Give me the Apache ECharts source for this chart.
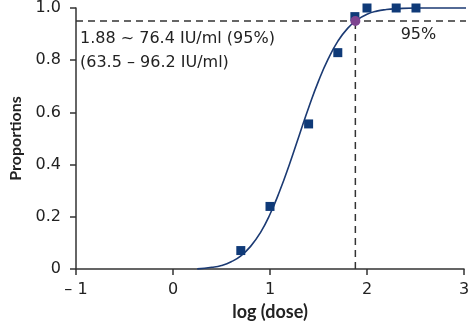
<!DOCTYPE html>
<html>
<head>
<meta charset="utf-8">
<script src="https://cdn.jsdelivr.net/npm/echarts@6/dist/echarts.min.js"></script>
<style>html,body{margin:0;padding:0;background:#fff}#c{width:474px;height:326px}</style>
</head>
<body>
<div id="c"></div>
<script>
// Observed data points (log dose vs proportion)
const doseLog = [0.699, 1.0, 1.398, 1.699, 1.875, 2.0, 2.301, 2.505];
const proportions = [0.071, 0.240, 0.556, 0.829, 0.967, 1.0, 1.0, 1.0];
// Fitted curve
const curveX = [0.25, 0.4, 0.5, 0.6, 0.7, 0.8, 0.9, 1.0, 1.1, 1.2, 1.3, 1.4, 1.5, 1.6, 1.7, 1.8, 1.9, 2.0, 2.1, 2.2, 2.3, 2.5, 2.8, 3.04];
const curveY = [0.001, 0.007, 0.014, 0.028, 0.051, 0.087, 0.139, 0.210, 0.299, 0.401, 0.511, 0.620, 0.720, 0.805, 0.873, 0.922, 0.955, 0.976, 0.988, 0.994, 0.997, 1.0, 1.0, 1.0];
// Cut-off (95%)
const cutoffX = 1.88;
const cutoffY = 0.95;
const hLineX = [-1, 3.05];
const xTicks = [-1, 0, 1, 2, 3];
const xTickLabels = ['\u2013 1', '0', '1', '2', '3'];
const yTickLabels = ['0', '0.2', '0.4', '0.6', '0.8', '1.0'];
const annotLines = ['1.88 ~ 76.4 IU/ml (95%)', '(63.5 \u2013 96.2 IU/ml)'];
const pctLabel = '95%';
const xName = 'log (dose)';
const yName = 'Proportions';

const FONT = 'DejaVu Sans';
const NFONT = 'Lato';
const txt = '#222';
const chart = echarts.init(document.getElementById('c'));
const axisCol = '#333';
chart.setOption({
  animation: false,
  grid: {left: 69, right: 10, top: 8, bottom: 53},
  xAxis: {
    type: 'value', min: -1, max: 3, interval: 1,
    name: xName, nameLocation: 'middle', nameGap: 28,
    nameTextStyle: {fontFamily: NFONT, fontWeight: 'bold', fontSize: 18, color: txt},
    axisLine: {onZero: false, lineStyle: {color: axisCol, width: 1.5}},
    axisTick: {length: 6, lineStyle: {color: axisCol, width: 1.5}},
    axisLabel: {fontFamily: FONT, fontSize: 16, color: txt, margin: 13,
      formatter: v => xTickLabels[xTicks.indexOf(v)]},
    splitLine: {show: false}
  },
  yAxis: {
    type: 'value', min: 0, max: 1, interval: 0.2,
    name: yName, nameLocation: 'middle', nameGap: 52,
    nameTextStyle: {fontFamily: NFONT, fontWeight: 'bold', fontSize: 16, color: txt},
    axisLine: {show: true, onZero: false, lineStyle: {color: axisCol, width: 1.5}},
    axisTick: {show: true, length: 6, lineStyle: {color: axisCol, width: 1.5}},
    axisLabel: {fontFamily: FONT, fontSize: 16, color: txt, margin: 15,
      formatter: v => yTickLabels[Math.round(v * 5)]},
    splitLine: {show: false}
  },
  series: [
    {type: 'line', data: hLineX.map(x => [x, cutoffY]), symbol: 'none', clip: false,
      lineStyle: {color: '#333', width: 1.5, type: [7, 5]}, z: 1},
    {type: 'line', data: [[cutoffX, 0], [cutoffX, cutoffY]], symbol: 'none',
      lineStyle: {color: '#333', width: 1.5, type: [7, 5]}, z: 1},
    {type: 'line', data: curveX.map((x, i) => [x, curveY[i]]), symbol: 'none', smooth: true, clip: false,
      lineStyle: {color: '#1b3a73', width: 1.6}, z: 2},
    {type: 'scatter', data: doseLog.map((x, i) => [x, proportions[i]]), symbol: 'rect', symbolSize: 9,
      itemStyle: {color: '#0f3a78', opacity: 1}, clip: false, z: 3},
    {type: 'scatter', data: [[cutoffX, cutoffY]], symbol: 'circle', symbolSize: 10,
      itemStyle: {color: '#7e4490', opacity: 1}, z: 4},
    {type: 'scatter', data: [[2.53, 0.897]], symbolSize: 0, silent: true,
      itemStyle: {opacity: 1},
      label: {show: true, position: 'inside', formatter: pctLabel, fontFamily: FONT, fontSize: 16, color: txt, opacity: 1}}
  ],
  graphic: [
    {type: 'text', left: 80, top: 27, style: {text: annotLines.join('\n'), fontFamily: FONT, fontSize: 16, lineHeight: 24, fill: txt}}
  ]
});
</script>
</body>
</html>
